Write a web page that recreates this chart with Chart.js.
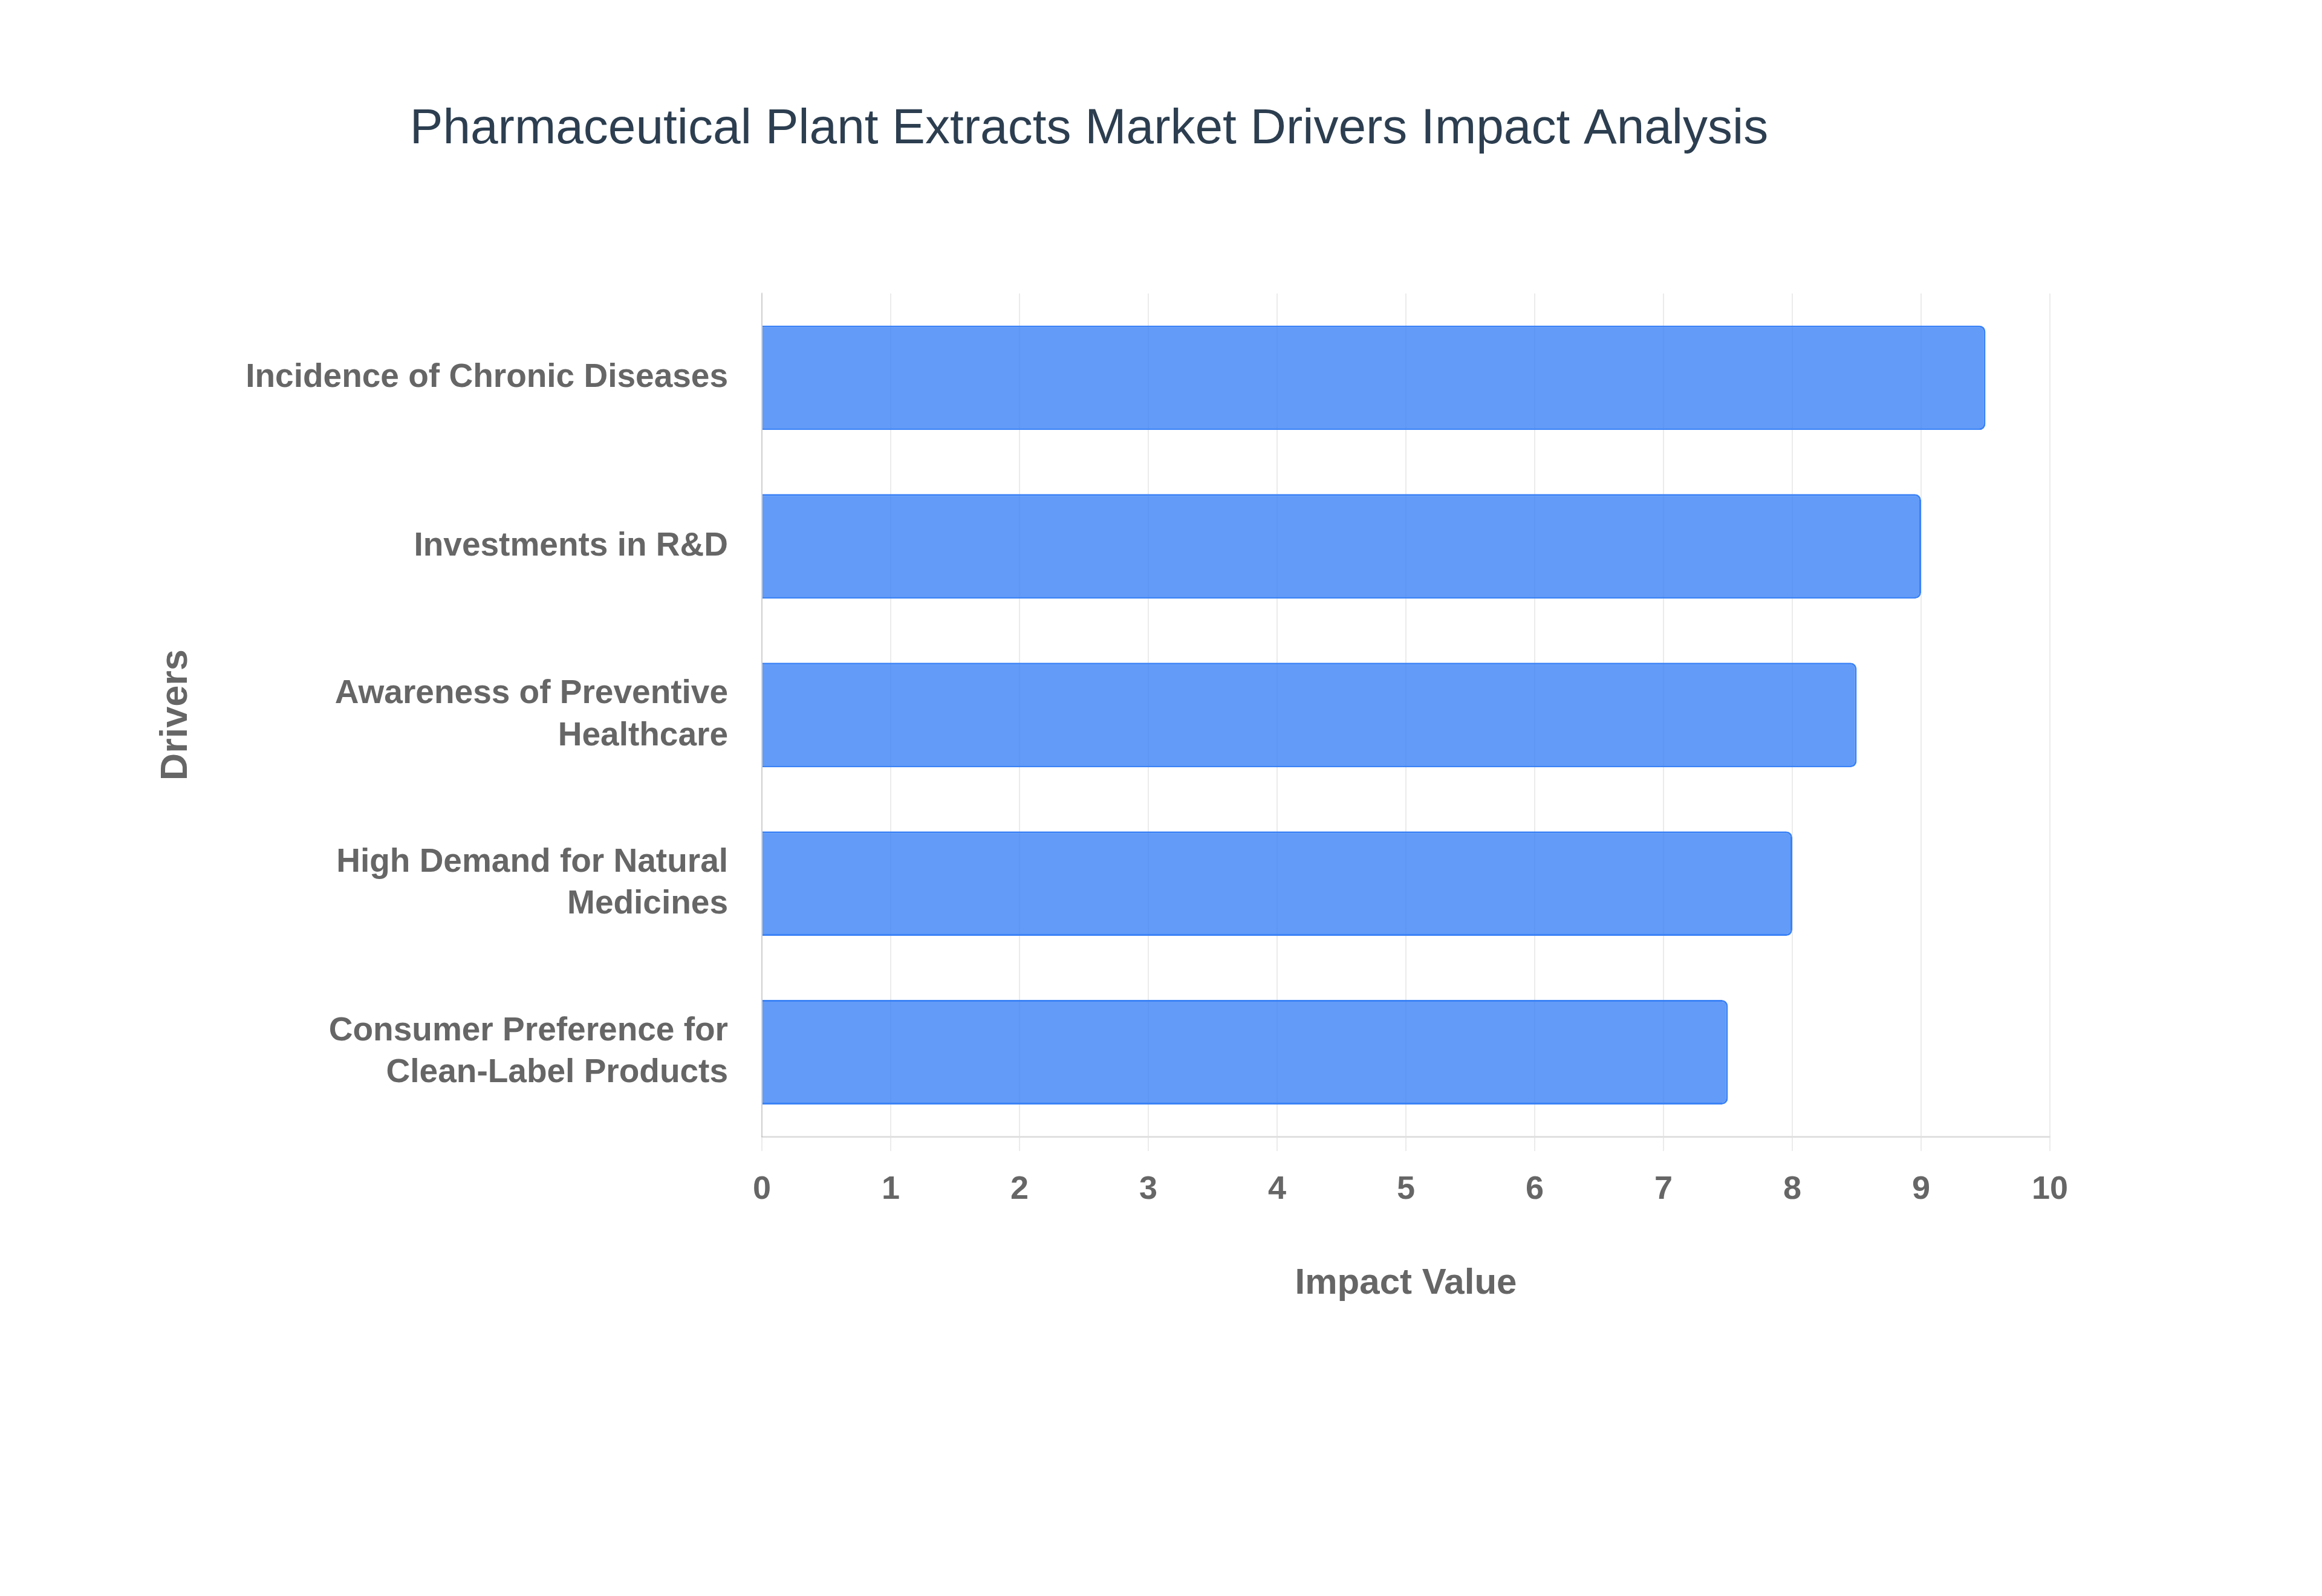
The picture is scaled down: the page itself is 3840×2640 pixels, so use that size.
<!DOCTYPE html>
<html>
<head>
<meta charset="utf-8">
<script src="https://cdn.jsdelivr.net/npm/chart.js@4.4.1/dist/chart.umd.min.js"></script>
<style>
    html, body { margin: 0; padding: 0; background: #fff; }
    #wrap { width: 3840px; height: 2640px; }
</style>
</head>
<body>
<div id="wrap"><canvas id="driversChart" width="3840" height="2640"></canvas></div>
<script>
// Datos del gráfico
const driverLabels = [
    "Incidence of Chronic Diseases",
    "Investments in R&D",
    ["Awareness of Preventive", "Healthcare"],
    ["High Demand for Natural", "Medicines"],
    ["Consumer Preference for", "Clean-Label Products"]
];
const impactValues = [9.5, 9.0, 8.5, 8.0, 7.5];
const impactTicks = [0, 1, 2, 3, 4, 5, 6, 7, 8, 9, 10];

const fontFamily = '"Liberation Sans", Arial, sans-serif';
const labelGray = '#666';

document.addEventListener("DOMContentLoaded", () => {
    initializeChart();
});

// Configura el gráfico de barras horizontales
function initializeChart() {
    const ctx = document.getElementById('driversChart').getContext('2d');
    new Chart(ctx, {
        type: 'bar',
        data: {
            labels: driverLabels,
            datasets: [{
                label: 'Impact Value',
                data: impactValues,
                backgroundColor: 'rgba(59, 130, 246, 0.8)',
                borderColor: '#3b82f6',
                borderWidth: 3,
                borderRadius: 10,
                barPercentage: 0.62,
                categoryPercentage: 1
            }]
        },
        options: {
            indexAxis: 'y',
            responsive: false,
            devicePixelRatio: 1,
            animation: false,
            layout: {
                padding: { left: 212, right: 450, top: 0, bottom: 0 }
            },
            plugins: {
                legend: { display: false },
                tooltip: { enabled: false },
                title: {
                    display: true,
                    text: 'Pharmaceutical Plant Extracts Market Drivers Impact Analysis',
                    color: '#2c3e50',
                    font: { family: fontFamily, size: 82, weight: 'normal' },
                    padding: { top: 165, bottom: 222 }
                }
            },
            scales: {
                x: {
                    min: impactTicks[0],
                    max: impactTicks[impactTicks.length - 1],
                    afterBuildTicks: scale => {
                        scale.ticks = impactTicks.map(v => ({ value: v }));
                    },
                    afterFit: scale => { scale.height = 760; },
                    grid: {
                        color: 'rgba(0, 0, 0, 0.08)',
                        lineWidth: 2,
                        tickLength: 24
                    },
                    border: { color: 'rgba(0, 0, 0, 0.12)', width: 3 },
                    ticks: {
                        color: labelGray,
                        padding: 32,
                        font: { family: fontFamily, size: 54, weight: 'bold' }
                    },
                    title: {
                        display: true,
                        text: 'Impact Value',
                        color: labelGray,
                        font: { family: fontFamily, size: 60, weight: 'bold' },
                        padding: { top: 0, bottom: 481 }
                    }
                },
                y: {
                    afterFit: scale => { scale.width = 1048; },
                    grid: { display: false, drawTicks: false },
                    border: { display: true, color: 'rgba(0, 0, 0, 0.12)', width: 2 },
                    ticks: {
                        color: labelGray,
                        padding: 56,
                        font: { family: fontFamily, size: 55, weight: 'bold', lineHeight: 1.26 }
                    },
                    title: {
                        display: true,
                        text: 'Drivers',
                        color: labelGray,
                        font: { family: fontFamily, size: 63, weight: 'bold' },
                        padding: { top: 42, bottom: 0 }
                    }
                }
            }
        }
    });
}
</script>
</body>
</html>
